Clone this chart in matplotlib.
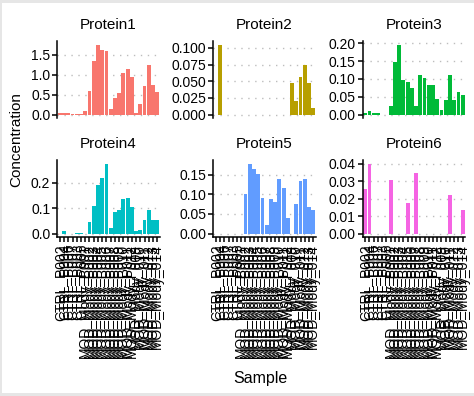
import numpy as np
import matplotlib
matplotlib.use("Agg")
import matplotlib.pyplot as plt
from matplotlib.patches import Rectangle

plt.rcParams['font.family'] = ['Liberation Sans', 'DejaVu Sans']

samples = ["CTRL_P002", "CTRL_P004", "CTRL_P006", "CTRL_P007", "CTRL_P003", "CTRL_P005",
           "MOD_Mody_P001", "MOD_Mody_P002", "MOD_Mody_P003", "MOD_Mody_P004",
           "MOD_Mody_P005", "MOD_Mody_P006", "MOD_Mody_P007", "MOD_Mody_P008",
           "MOD_Mody_P009", "MOD_Mody_P010", "MOD_Mody_P011", "MOD_Mody_P012",
           "MOD_Mody_009", "MOD_Mody_010", "MOD_Mody_011", "MOD_Mody_012",
           "MOD_Mody_013", "MOD_Mody_014"]

proteins = ["Protein1", "Protein2", "Protein3", "Protein4", "Protein5", "Protein6"]

protein1 = [0.05, 0.05, 0.035, 0.02, 0.02, 0.01, 0.09, 0.577, 1.34, 1.756, 1.626, 1.585,
            0.14, 0.42, 0.53, 1.03, 1.146, 0.95, 0.04, 0.27, 0.715, 1.25, 0.75, 0.553]
protein2 = [0, 0.105, 0, 0, 0, 0, 0, 0, 0, 0, 0, 0,
            0, 0, 0, 0, 0, 0, 0.047, 0.020, 0.057, 0.075, 0.047, 0.010]
protein3 = [0.003, 0.011, 0.005, 0.004, 0, 0, 0.024, 0.147, 0.197, 0.098, 0.091, 0.075,
            0.025, 0.112, 0.103, 0.083, 0.083, 0.043, 0.014, 0.040, 0.112, 0.042, 0.062, 0.054]
protein4 = [0, 0.008, 0, 0, 0.002, 0.002, 0, 0.044, 0.109, 0.191, 0.219, 0.277,
            0.020, 0.085, 0.092, 0.135, 0.140, 0.106, 0.010, 0.015, 0.055, 0.092, 0.055, 0.053]
protein5 = [0, 0, 0, 0, 0, 0, 0, 0.100, 0.179, 0.165, 0.153, 0.092,
            0.0225, 0.087, 0.081, 0.139, 0.117, 0.040, 0, 0.076, 0.135, 0.140, 0.067, 0.061]
protein6 = [0.0257, 0.040, 0, 0, 0, 0, 0.0304, 0, 0, 0, 0.0172, 0,
            0.0343, 0, 0, 0, 0, 0, 0, 0, 0.0219, 0, 0, 0.0133]

values = [protein1, protein2, protein3, protein4, protein5, protein6]
colors = ["#F8766D", "#B79F00", "#00BA38", "#00BFC4", "#619CFF", "#F564E3"]
yticks = [[0, 0.5, 1.0, 1.5], [0, 0.025, 0.05, 0.075, 0.1], [0, 0.05, 0.1, 0.15, 0.2],
          [0, 0.1, 0.2], [0, 0.05, 0.1, 0.15], [0, 0.01, 0.02, 0.03, 0.04]]
yfmt = ["%.1f", "%.3f", "%.2f", "%.1f", "%.2f", "%.2f"]

W, H = 474, 396
fig = plt.figure(figsize=(W / 100, H / 100), dpi=100)
fig.patch.set_facecolor("#e6e6e6")
bg = Rectangle((2 / W, 3 / H), 472 / W, 390 / H, transform=fig.transFigure,
               facecolor="white", edgecolor="none", zorder=-10)
fig.add_artist(bg)

col_left = [57.3, 213.3, 362.7]
col_w = 102.5
row_top = [41, 160]
row_h = 77

x = np.arange(len(samples))
for i, name in enumerate(proteins):
    r, c = divmod(i, 3)
    ax = fig.add_axes([col_left[c] / W, 1 - (row_top[r] + row_h) / H, col_w / W, row_h / H])
    ax.set_facecolor("none")
    vals = values[i]
    ax.bar(x, vals, width=0.9, color=colors[i], zorder=2)
    vmax = max(vals)
    ax.set_ylim(-0.05 * vmax, 1.05 * vmax)
    ax.set_xlim(-0.6, len(samples) - 0.4)
    ax.set_yticks(yticks[i])
    ax.set_yticklabels([yfmt[i] % t for t in yticks[i]])
    for t in yticks[i]:
        ax.axhline(t, color="#bdbdbd", lw=1.0, ls=(0, (1, 4)), zorder=1)
    for s in ["top", "right"]:
        ax.spines[s].set_visible(False)
    ax.spines["left"].set_linewidth(1.1)
    ax.tick_params(axis="y", length=3.5, width=1.1, labelsize=10, pad=1.5, colors="black")
    ax.text(0.5, 1 + 16 / row_h, name, transform=ax.transAxes, ha="center", va="center",
            fontsize=11)
    if r == 0:
        ax.spines["bottom"].set_visible(False)
        ax.set_xticks([])
    else:
        ax.spines["bottom"].set_linewidth(1.1)
        ax.set_xticks(x)
        ax.set_xticklabels(samples, rotation=90, fontsize=10)
        ax.tick_params(axis="x", length=3.5, width=1.1, pad=1.5)

fig.text(16 / W, 1 - 140 / H, "Concentration", rotation=90, ha="center", va="center", fontsize=11)
fig.text(260 / W, 1 - 379 / H, "Sample", ha="center", va="center", fontsize=11.5)

fig.savefig("out.png", dpi=100, facecolor=fig.get_facecolor())
